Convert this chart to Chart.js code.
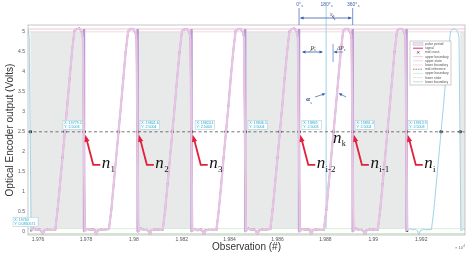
<!DOCTYPE html>
<html><head><meta charset="utf-8">
<script src="https://cdn.jsdelivr.net/npm/chart.js@4"></script>
<style>html,body{margin:0;padding:0;background:#fff}#wrap{width:474px;height:255px;position:relative}</style>
</head><body><div id="wrap"><canvas id="c" width="474" height="255"></canvas></div>
<script>
// ---- axis ticks ----
const xTickVals=[19760,19780,19800,19820,19840,19860,19880,19900,19920];
const xTickLabels=['1.976','1.978','1.98','1.982','1.984','1.986','1.988','1.99','1.992'];
const yTickVals=[0,0.5,1,1.5,2,2.5,3,3.5,4,4.5,5];
const yTickLabels=['0','0.5','1','1.5','2','2.5','3','3.5','4','4.5','5'];

// ---- signal (pink) ----
const signalX=[
 19757.1,19758.1,19759.3,19760.6,19761.4,19761.9,19762.5,19763.8,19765.3,
 19767.2,19768.2,19769.2,19770.2,19771.2,19772.2,19773.2,19774.2,19775.2,19776.2,19777.2,19778.2,19778.7,
 19779.5,19780.5,19781.7,19783.0,19783.8,19784.3,19784.9,19786.2,19787.7,
 19789.6,19790.6,19791.6,19792.6,19793.6,19794.6,19795.6,19796.6,19797.6,19798.6,19799.6,19800.6,19801.1,
 19801.9,19802.9,19804.1,19805.4,19806.2,19806.7,19807.3,19808.6,19810.1,
 19812.1,19813.1,19814.1,19815.1,19816.1,19817.1,19818.1,19819.1,19820.1,19821.1,19822.1,19823.1,19823.6,
 19824.4,19825.4,19826.6,19827.9,19828.7,19829.2,19829.8,19831.1,19832.6,
 19834.5,19835.5,19836.5,19837.5,19838.5,19839.5,19840.5,19841.5,19842.5,19843.5,19844.5,19845.5,19846.0,
 19846.8,19847.8,19849.0,19850.3,19851.1,19851.6,19852.2,19853.5,19855.0,
 19857.0,19858.0,19859.0,19860.0,19861.0,19862.0,19863.0,19864.0,19865.0,19866.0,19867.0,19868.0,19868.5,
 19869.3,19870.3,19871.5,19872.8,19873.6,19874.1,19874.7,19876.0,19877.5,
 19879.4,19880.4,19881.4,19882.4,19883.4,19884.4,19885.4,19886.4,19887.4,19888.4,19889.4,19890.4,19890.9,
 19891.7,19892.7,19893.9,19895.2,19896.0,19896.5,19897.1,19898.4,19899.9,
 19901.9,19902.9,19903.9,19904.9,19905.9,19906.9,19907.9,19908.9,19909.9,19910.9,19911.9,19912.9,19913.4,
 19914.2];
const signalY=[
 0.03,0.08,0.05,0.06,0.02,-0.1,0.03,0.06,0.05,
 0.06,0.57,1.21,1.86,2.5,3.16,3.84,4.52,5.02,5.07,5.08,5.0,4.86,
 0.03,0.07,0.05,0.06,0.03,-0.11,0.03,0.06,0.05,
 0.07,0.55,1.19,1.84,2.49,3.14,3.83,4.5,5.01,5.07,5.07,4.99,4.85,
 0.02,0.08,0.05,0.05,0.02,-0.1,0.04,0.06,0.06,
 0.06,0.56,1.2,1.85,2.5,3.15,3.85,4.49,5.02,5.06,5.07,5.0,4.86,
 0.03,0.07,0.04,0.06,0.02,-0.12,0.03,0.05,0.05,
 0.06,0.54,1.2,1.86,2.51,3.15,3.86,4.51,5.02,5.07,5.07,5.0,4.85,
 0.03,0.08,0.05,0.06,0.02,-0.1,0.03,0.06,0.05,
 0.07,0.56,1.21,1.85,2.5,3.16,3.85,4.5,5.01,5.07,5.08,5.0,4.86,
 0.02,0.07,0.05,0.06,0.03,-0.11,0.04,0.06,0.05,
 0.06,0.55,1.2,1.84,2.5,3.14,3.84,4.5,5.02,5.07,5.07,4.99,4.85,
 0.03,0.08,0.05,0.05,0.02,-0.1,0.03,0.06,0.06,
 0.06,0.56,1.2,1.85,2.5,3.15,3.85,4.51,5.02,5.07,5.07,5.0,4.86,
 0.02];

// ---- neighbouring signal pieces (light blue) ----
const cyanLeftX=[19754.8,19755.8,19756.3,19757.1];
const cyanLeftY=[5.07,5.07,4.86,0.03];
const cyanRightX=[19914.2,19915.2,19916.4,19917.7,19918.5,19919.0,19919.6,19920.9,19922.4,19924.3,19925.3,19926.3,19927.3,19928.3,19929.3,19930.3,19931.3,19932.3,19933.3,19934.3,19935.3,19935.8,19936.6,19937.6,19938.6];
const cyanRightY=[0.02,0.08,0.05,0.06,0.02,-0.1,0.03,0.06,0.05,0.06,0.55,1.2,1.85,2.5,3.15,3.85,4.5,5.02,5.07,5.07,5.0,4.86,0.02,0.07,0.05];

// ---- mid crossings ----
const crossX=[19756.8,19771.2,19779.2,19793.6,19801.6,19816.1,19824.1,19838.5,19846.5,19861.0,19869.0,19883.4,19891.4,19905.9,19913.9,19928.3,19936.3];
const fallX=[19756.8,19779.2,19801.6,19824.1,19846.5,19869.0,19891.4,19913.9,19936.3];
const midRef=2.5;
const upperBoundary=5.07, upperState=5.0, lowerState=0.08, lowerBoundary=-0.05;

// ---- pulse period bands ----
const bandStart=[19756.8,19801.6,19846.5,19891.4,19936.3];
const bandEnd=[19779.2,19824.1,19869.0,19913.9,19940];

// ---- data tips ----
const tipBoxX=[19770.4,19802.6,19825.6,19847.7,19870.2,19892.4,19914.5];
const tipXText=['19779.2','19801.6','19824.1','19846.5','19869','19891.4','19913.9'];
const tipYText=['2.5003','2.5004','2.5003','2.5004','2.5003','2.5004','2.5003'];
const cornerTip=['19760','0.0360571'];

// ---- n labels ----
const arrowTargetX=[19779.2,19801.6,19824.1,19869.0,19891.4,19913.9];
const arrowSub=['1','2','3','i-2','i-1','i'];
const nkX=19883.4;

// ---- phase annotations ----
const degLineX=[19869.0,19880.3,19891.4];
const degLabels=['0°','180°','360°'];
const psRange=[19870.2,19879.0];
const dpsRange=[19883.2,19886.2];

// ---- legend ----
const legendLabels=['pulse period','signal','mid cross','upper boundary','upper state','lower boundary','mid reference','upper boundary','lower state','lower boundary'];

const pts=(xs,ys)=>xs.map((v,i)=>({x:v,y:ys[i]}));

function arrowHead(ctx,x1,y1,x2,y2,len,w){
  const a=Math.atan2(y2-y1,x2-x1);
  ctx.beginPath();
  ctx.moveTo(x2,y2);
  ctx.lineTo(x2-len*Math.cos(a)+w*Math.sin(a), y2-len*Math.sin(a)-w*Math.cos(a));
  ctx.lineTo(x2-len*Math.cos(a)-w*Math.sin(a), y2-len*Math.sin(a)+w*Math.cos(a));
  ctx.closePath(); ctx.fill();
}
function subText(ctx,main,sub,x,yb,mainFont,subFont,dy){
  ctx.font=mainFont; ctx.fillText(main,x,yb);
  const w=ctx.measureText(main).width;
  ctx.font=subFont; ctx.fillText(sub,x+w+0.3,yb+dy);
}

const annot={
  id:'annot',
  beforeDatasetsDraw(chart){
    const {ctx,chartArea:a,scales:{x,y}}=chart;
    ctx.save();
    ctx.beginPath(); ctx.rect(a.left,a.top,a.right-a.left,a.bottom-a.top); ctx.clip();
    ctx.fillStyle='#e8eaea';
    const yt=y.getPixelForValue(upperState), yb=y.getPixelForValue(lowerState);
    for(let i=0;i<bandStart.length;i++){
      const x1=Math.max(a.left,x.getPixelForValue(bandStart[i]));
      const x2=Math.min(a.right,x.getPixelForValue(bandEnd[i]));
      ctx.fillRect(x1,yt,x2-x1,yb-yt);
    }
    ctx.lineWidth=0.8;
    ctx.strokeStyle='#f0b4c8';
    ctx.beginPath(); ctx.moveTo(a.left,y.getPixelForValue(upperBoundary)); ctx.lineTo(a.right,y.getPixelForValue(upperBoundary)); ctx.stroke();
    ctx.strokeStyle='#e4d8dc';
    ctx.beginPath(); ctx.moveTo(a.left,yt); ctx.lineTo(a.right,yt); ctx.stroke();
    ctx.strokeStyle='#cfe8cf';
    ctx.beginPath(); ctx.moveTo(a.left,yb); ctx.lineTo(a.right,yb); ctx.stroke();
    ctx.strokeStyle='#a8d8a8';
    ctx.beginPath(); ctx.moveTo(a.left,y.getPixelForValue(lowerBoundary)); ctx.lineTo(a.right,y.getPixelForValue(lowerBoundary)); ctx.stroke();
    ctx.strokeStyle='#9fd3e6'; ctx.lineWidth=1;
    const c1=x.getPixelForValue(degLineX[1]);
    ctx.beginPath(); ctx.moveTo(c1,a.top); ctx.lineTo(c1,yb); ctx.stroke();
    ctx.strokeStyle='#b69ad6'; ctx.lineWidth=2.4;
    for(let i=1;i<fallX.length-1;i++){
      const fx=x.getPixelForValue(fallX[i]);
      ctx.beginPath(); ctx.moveTo(fx,y.getPixelForValue(upperBoundary)); ctx.lineTo(fx,y.getPixelForValue(0.0)); ctx.stroke();
    }
    ctx.strokeStyle='#555'; ctx.lineWidth=0.8; ctx.setLineDash([3,2.5]);
    const ym=y.getPixelForValue(midRef);
    ctx.beginPath(); ctx.moveTo(a.left,ym); ctx.lineTo(a.right,ym); ctx.stroke();
    ctx.setLineDash([]);
    ctx.restore();
  },
  afterDatasetsDraw(chart){
    const {ctx,chartArea:a,scales:{x,y}}=chart;
    ctx.save();
    ctx.strokeStyle='#b8b8b8'; ctx.lineWidth=0.8;
    ctx.strokeRect(a.left,a.top,a.right-a.left,a.bottom-a.top);
    const ym=y.getPixelForValue(midRef);
    for(let i=0;i<tipBoxX.length;i++){
      const bx=x.getPixelForValue(tipBoxX[i]), by=ym-11.5;
      ctx.fillStyle='#fff'; ctx.fillRect(bx,by,19.5,9);
      ctx.strokeStyle='#9cc6d4'; ctx.lineWidth=0.5; ctx.strokeRect(bx,by,19.5,9);
      ctx.fillStyle='#1ea6cc'; ctx.font='3.6px "Liberation Sans"'; ctx.textAlign='left';
      ctx.fillText('X: '+tipXText[i],bx+1.3,by+3.8);
      ctx.fillText('Y: '+tipYText[i],bx+1.3,by+7.6);
    }
    {
      const bx=x.getPixelForValue(19760)-25, by=y.getPixelForValue(0.04)-13;
      ctx.fillStyle='#fff'; ctx.fillRect(bx,by,25,9.5);
      ctx.strokeStyle='#9cc6d4'; ctx.lineWidth=0.5; ctx.strokeRect(bx,by,25,9.5);
      ctx.fillStyle='#1ea6cc'; ctx.font='3.6px "Liberation Sans"';
      ctx.fillText('X: '+cornerTip[0],bx+1.3,by+4);
      ctx.fillText('Y: '+cornerTip[1],bx+1.3,by+8);
    }
    ctx.lineWidth=1.8;
    for(let i=0;i<arrowTargetX.length;i++){
      const hx=x.getPixelForValue(arrowTargetX[i])+1.2, hy=ym+3;
      const dx=hx+8, dy=ym+33, ex=hx+15;
      ctx.strokeStyle='#e2213b'; ctx.fillStyle='#e2213b';
      ctx.beginPath(); ctx.moveTo(ex,dy); ctx.lineTo(dx,dy); ctx.lineTo(hx+1.2,hy+4); ctx.stroke();
      arrowHead(ctx,dx,dy,hx,hy,7,2.6);
      ctx.fillStyle='#111';
      subText(ctx,'n',arrowSub[i],ex+1.5,dy+3.5,'italic 17px "Liberation Serif"','9px "Liberation Serif"',3.5);
    }
    ctx.fillStyle='#111';
    subText(ctx,'n','k',x.getPixelForValue(nkX)-0.5,ym+11,'italic 17px "Liberation Serif"','8px "Liberation Serif"',3);
    const c0=x.getPixelForValue(degLineX[0]), c1=x.getPixelForValue(degLineX[1]), c2=x.getPixelForValue(degLineX[2]);
    ctx.strokeStyle='#5574c4'; ctx.lineWidth=0.8;
    ctx.beginPath(); ctx.moveTo(c0,8); ctx.lineTo(c0,a.top); ctx.stroke();
    ctx.beginPath(); ctx.moveTo(c2,8); ctx.lineTo(c2,a.top); ctx.stroke();
    ctx.strokeStyle='#9fd3e6'; ctx.lineWidth=1;
    ctx.beginPath(); ctx.moveTo(c1,6); ctx.lineTo(c1,a.top); ctx.stroke();
    ctx.fillStyle='#4060b0'; ctx.textAlign='left';
    for(let i=0;i<3;i++){
      const cx=[c0,c1,c2][i];
      ctx.font='5px "Liberation Sans"';
      const w=ctx.measureText(degLabels[i]).width;
      subText(ctx,degLabels[i],'s',cx-w/2-0.5,6,'5px "Liberation Sans"','3.5px "Liberation Sans"',1);
    }
    ctx.strokeStyle='#3a5cb0'; ctx.fillStyle='#3a5cb0'; ctx.lineWidth=0.8;
    ctx.beginPath(); ctx.moveTo(c0+2,18); ctx.lineTo(c2-2,18); ctx.stroke();
    arrowHead(ctx,c0+10,18,c0+0.5,18,4,1.6);
    arrowHead(ctx,c2-10,18,c2-0.5,18,4,1.6);
    ctx.beginPath(); ctx.moveTo(c1+6,16); ctx.lineTo(c1+9,20); ctx.stroke();
    ctx.fillStyle='#333';
    subText(ctx,'S','s',c1+4,16,'italic 5px "Liberation Serif"','3.5px "Liberation Serif"',1);
    const p0=x.getPixelForValue(psRange[0]), p1=x.getPixelForValue(psRange[1]);
    ctx.strokeStyle='#3a5cb0'; ctx.fillStyle='#3a5cb0';
    ctx.beginPath(); ctx.moveTo(p0+1,52); ctx.lineTo(p1-1,52); ctx.stroke();
    arrowHead(ctx,p0+8,52,p0,52,3.5,1.5);
    arrowHead(ctx,p1-8,52,p1,52,3.5,1.5);
    ctx.fillStyle='#333';
    subText(ctx,'P','s',(p0+p1)/2-2,50,'italic 5.5px "Liberation Serif"','3.5px "Liberation Serif"',1);
    ctx.beginPath(); ctx.strokeStyle='#333'; ctx.lineWidth=0.5; ctx.moveTo((p0+p1)/2-3,51.5); ctx.lineTo((p0+p1)/2+3,47); ctx.stroke();
    const d0=x.getPixelForValue(dpsRange[0]), d1=x.getPixelForValue(dpsRange[1]);
    ctx.strokeStyle='#5574c4'; ctx.lineWidth=0.7;
    ctx.beginPath(); ctx.moveTo(d0,44); ctx.lineTo(d0,62); ctx.stroke();
    ctx.fillStyle='#3a5cb0';
    arrowHead(ctx,d0+6,52,d0+0.5,52,3.5,1.5);
    ctx.beginPath(); ctx.moveTo(d0+1,52); ctx.lineTo(d1+3,52); ctx.stroke();
    ctx.fillStyle='#333';
    subText(ctx,'ΔP','s',d0+4,50,'italic 5.5px "Liberation Serif"','3.5px "Liberation Serif"',1);
    ctx.fillStyle='#2f4f9a';
    subText(ctx,'α','s',c0+7,101,'bold 7px "Liberation Serif"','4px "Liberation Serif"',3);
    ctx.strokeStyle='#3a5cb0'; ctx.fillStyle='#3a5cb0'; ctx.lineWidth=0.7;
    ctx.beginPath(); ctx.moveTo(c0+16,97); ctx.lineTo(c1-2,94); ctx.stroke();
    arrowHead(ctx,c0+16,97,c1-0.5,93.5,3.5,1.5);
    ctx.beginPath(); ctx.moveTo(c1+20,97); ctx.lineTo(c1+14,94); ctx.stroke();
    arrowHead(ctx,c1+20,97,c1+12.5,93.3,3.5,1.5);
    const lx=410, ly=41, lw=41, lh=44;
    ctx.fillStyle='#fff'; ctx.fillRect(lx,ly,lw,lh);
    ctx.strokeStyle='#9a9a9a'; ctx.lineWidth=0.5; ctx.strokeRect(lx,ly,lw,lh);
    ctx.font='3.4px "Liberation Sans"'; ctx.textAlign='left'; ctx.textBaseline='middle';
    const lineCols=['#e8eaea','#d6337a','#222','#f0b4c8','#e4c8d4','#e8c8d0','#555','#bfe2bf','#cfe8cf','#a8d8a8'];
    for(let i=0;i<legendLabels.length;i++){
      const ey=ly+3+i*4.2;
      if(i===0){ctx.fillStyle='#e3e5e5'; ctx.fillRect(lx+3,ey-1.3,10,2.6); ctx.strokeStyle='#c8b0dc'; ctx.lineWidth=0.4; ctx.strokeRect(lx+3,ey-1.3,10,2.6);}
      else if(i===2){ctx.strokeStyle='#222'; ctx.lineWidth=0.6; ctx.beginPath(); ctx.moveTo(lx+7,ey-1.2); ctx.lineTo(lx+9.4,ey+1.2); ctx.moveTo(lx+9.4,ey-1.2); ctx.lineTo(lx+7,ey+1.2); ctx.stroke();}
      else { ctx.strokeStyle=lineCols[i]; ctx.lineWidth=i===1?1:0.7; if(i===6) ctx.setLineDash([1.5,1]); ctx.beginPath(); ctx.moveTo(lx+3,ey); ctx.lineTo(lx+13,ey); ctx.stroke(); ctx.setLineDash([]); }
      ctx.fillStyle='#555'; ctx.fillText(legendLabels[i],lx+15,ey);
    }
    ctx.textBaseline='alphabetic';
    ctx.fillStyle='#333'; ctx.font='10px "Liberation Sans"'; ctx.textAlign='center';
    ctx.fillText('Observation (#)',(a.left+a.right)/2,250);
    ctx.save(); ctx.translate(13,(a.top+a.bottom)/2); ctx.rotate(-Math.PI/2);
    ctx.fillText('Optical Encoder output (Volts)',0,0); ctx.restore();
    ctx.fillStyle='#666'; ctx.textAlign='left';
    subText(ctx,'× 10','4',455,249,'4px "Liberation Sans"','3px "Liberation Sans"',-2);
    ctx.restore();
  }
};

new Chart(document.getElementById('c'),{
  type:'scatter',
  data:{datasets:[
    {data:pts(cyanLeftX,cyanLeftY),showLine:true,borderColor:'#9fd3e6',borderWidth:1,pointRadius:0,tension:0},
    {data:pts(cyanRightX,cyanRightY),showLine:true,borderColor:'#9fd3e6',borderWidth:1,pointRadius:0,tension:0},
    {data:pts(signalX,signalY),showLine:true,borderColor:'#e4c6e4',borderWidth:2.3,pointRadius:0,tension:0},
    {data:pts(signalX,signalY),showLine:true,borderColor:'#d42a78',borderWidth:1.5,pointRadius:1,pointBackgroundColor:'#a81c5c',pointBorderWidth:0,tension:0},
    {data:crossX.map(v=>({x:v,y:midRef})),showLine:false,pointRadius:1.7,pointBackgroundColor:'#222',pointBorderWidth:0}
  ]},
  options:{
    responsive:false,animation:false,devicePixelRatio:1,
    layout:{padding:{top:25,right:9,left:0,bottom:0}},
    plugins:{legend:{display:false},tooltip:{enabled:false}},
    scales:{
      x:{type:'linear',min:19755.8,max:19938.3,
        afterFit:s=>{s.height=20;},
        afterBuildTicks:s=>{s.ticks=xTickVals.map(v=>({value:v}));},
        grid:{display:true,drawOnChartArea:false,drawTicks:false},border:{display:false},
        ticks:{autoSkip:false,maxRotation:0,padding:2,color:'#555',font:{size:5,family:'Liberation Sans'},
          callback:v=>{const i=xTickVals.indexOf(v);return i<0?'':xTickLabels[i];}}},
      y:{type:'linear',min:-0.08,max:5.17,
        afterFit:s=>{s.width=28;},
        afterBuildTicks:s=>{s.ticks=yTickVals.map(v=>({value:v}));},
        grid:{display:true,drawOnChartArea:false,drawTicks:false},border:{display:false},
        ticks:{autoSkip:false,padding:3,color:'#555',font:{size:5,family:'Liberation Sans'},
          callback:v=>{const i=yTickVals.indexOf(v);return i<0?'':yTickLabels[i];}}}
    }
  },
  plugins:[annot]
});
</script></body></html>
